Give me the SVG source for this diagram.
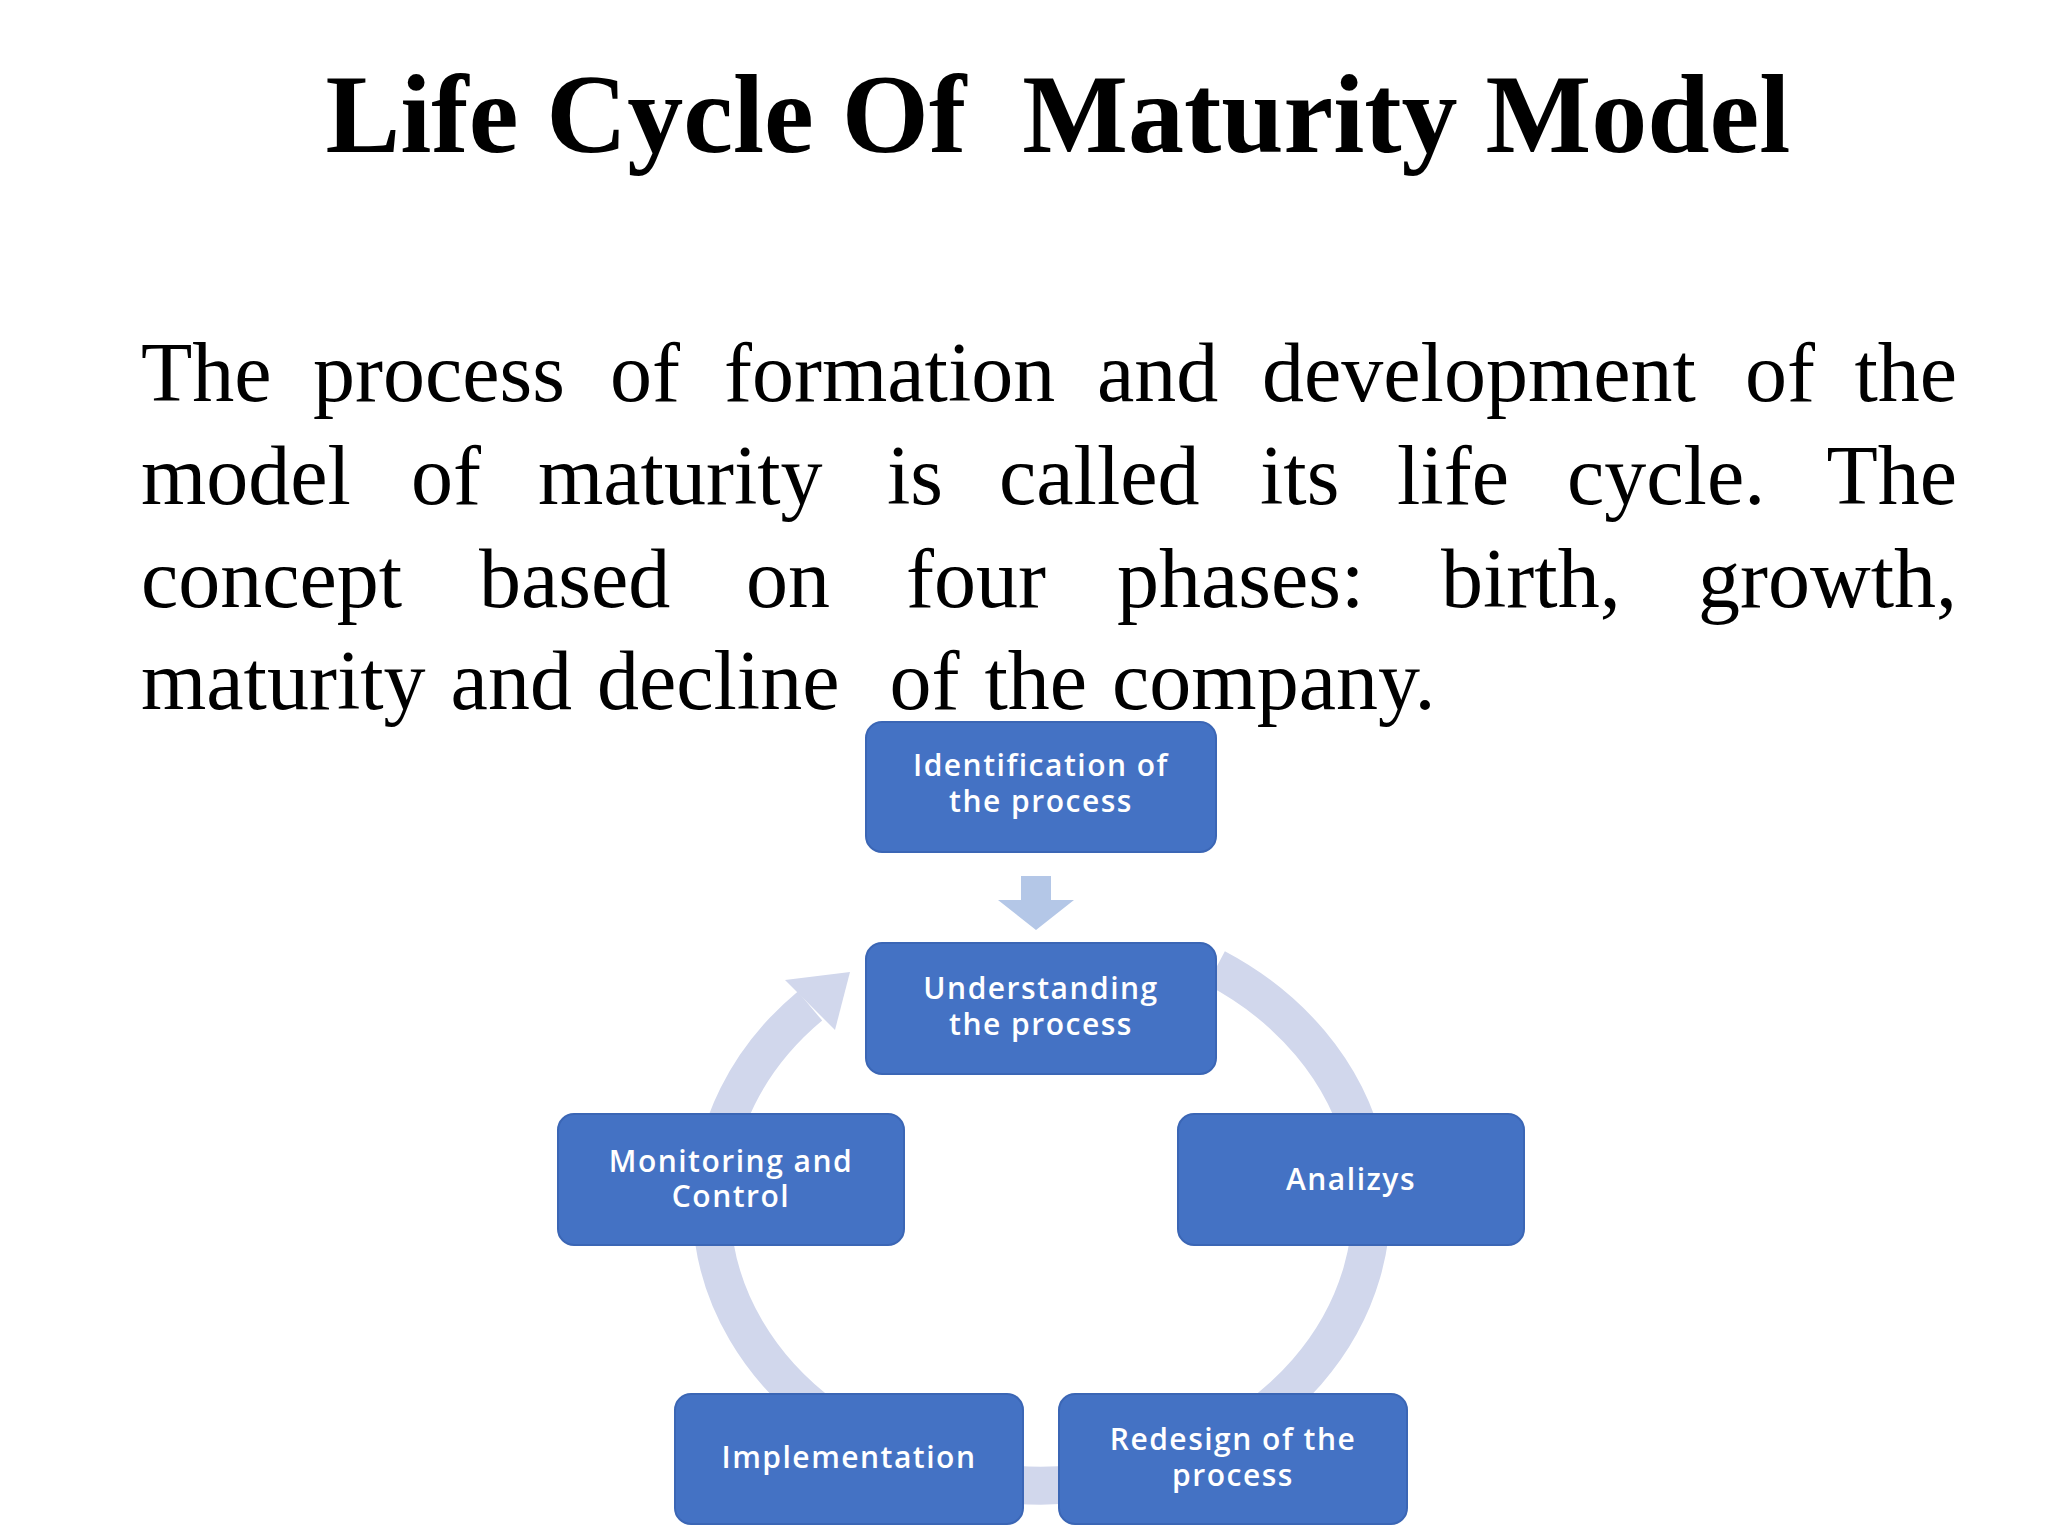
<svg xmlns="http://www.w3.org/2000/svg" width="2048" height="1536" viewBox="0 0 2048 1536">
<style>
.t{font-family:"Liberation Serif",serif;font-size:84px;fill:#000}
.b{fill:#4472C4;stroke:#3B66B5;stroke-width:2}
.l{font-family:"Open Sans",sans-serif;font-size:30px;font-weight:600;fill:#fff;text-anchor:middle;letter-spacing:1.5px}
</style>
<rect width="2048" height="1536" fill="#fff"/>
<text x="1058" y="152" text-anchor="middle" font-family="Liberation Serif,serif" font-weight="bold" font-size="112" xml:space="preserve">Life Cycle Of  Maturity Model</text>
<g class="t">
<text y="401"><tspan x="141">The</tspan><tspan x="313">process</tspan><tspan x="610">of</tspan><tspan x="724">formation</tspan><tspan x="1097">and</tspan><tspan x="1262">development</tspan><tspan x="1745">of</tspan></text>
<text y="401" x="1957" text-anchor="end">the</text>
<text y="504"><tspan x="141">model</tspan><tspan x="411">of</tspan><tspan x="538">maturity</tspan><tspan x="887">is</tspan><tspan x="999">called</tspan><tspan x="1260">its</tspan><tspan x="1397">life</tspan><tspan x="1567">cycle.</tspan></text>
<text y="504" x="1957" text-anchor="end">The</text>
<text y="607"><tspan x="141">concept</tspan><tspan x="479">based</tspan><tspan x="746">on</tspan><tspan x="906">four</tspan><tspan x="1117">phases:</tspan><tspan x="1441">birth,</tspan></text>
<text y="607" x="1957" text-anchor="end">growth,</text>
<text y="709" x="141" xml:space="preserve" word-spacing="4">maturity and decline  of the company.</text>
</g>
<g id="connectors">
<path d="M1216 968 A330 280 0 1 1 810 1006" fill="none" stroke="#D1D7EC" stroke-width="38"/>
<polygon points="850,972 835,1030 785,980" fill="#D1D7EC"/>
<polygon points="1021,876 1051,876 1051,900 1074,900 1036,930 998,900 1021,900" fill="#B4C7E7"/>
</g>
<g id="n1"><rect class="b" x="866" y="722" width="350" height="130" rx="16"/><text class="l" x="1041" y="776">Identification of</text><text class="l" x="1041" y="812">the process</text></g>
<g id="n2"><rect class="b" x="866" y="943" width="350" height="131" rx="16"/><text class="l" x="1041" y="999">Understanding</text><text class="l" x="1041" y="1035">the process</text></g>
<g id="n3"><rect class="b" x="1178" y="1114" width="346" height="131" rx="16"/><text class="l" x="1351" y="1190">Analizys</text></g>
<g id="n4"><rect class="b" x="1059" y="1394" width="348" height="130" rx="16"/><text class="l" x="1233" y="1450">Redesign of the</text><text class="l" x="1233" y="1486">process</text></g>
<g id="n5"><rect class="b" x="675" y="1394" width="348" height="130" rx="16"/><text class="l" x="849" y="1468">Implementation</text></g>
<g id="n6"><rect class="b" x="558" y="1114" width="346" height="131" rx="16"/><text class="l" x="731" y="1172">Monitoring and</text><text class="l" x="731" y="1207">Control</text></g>
</svg>
